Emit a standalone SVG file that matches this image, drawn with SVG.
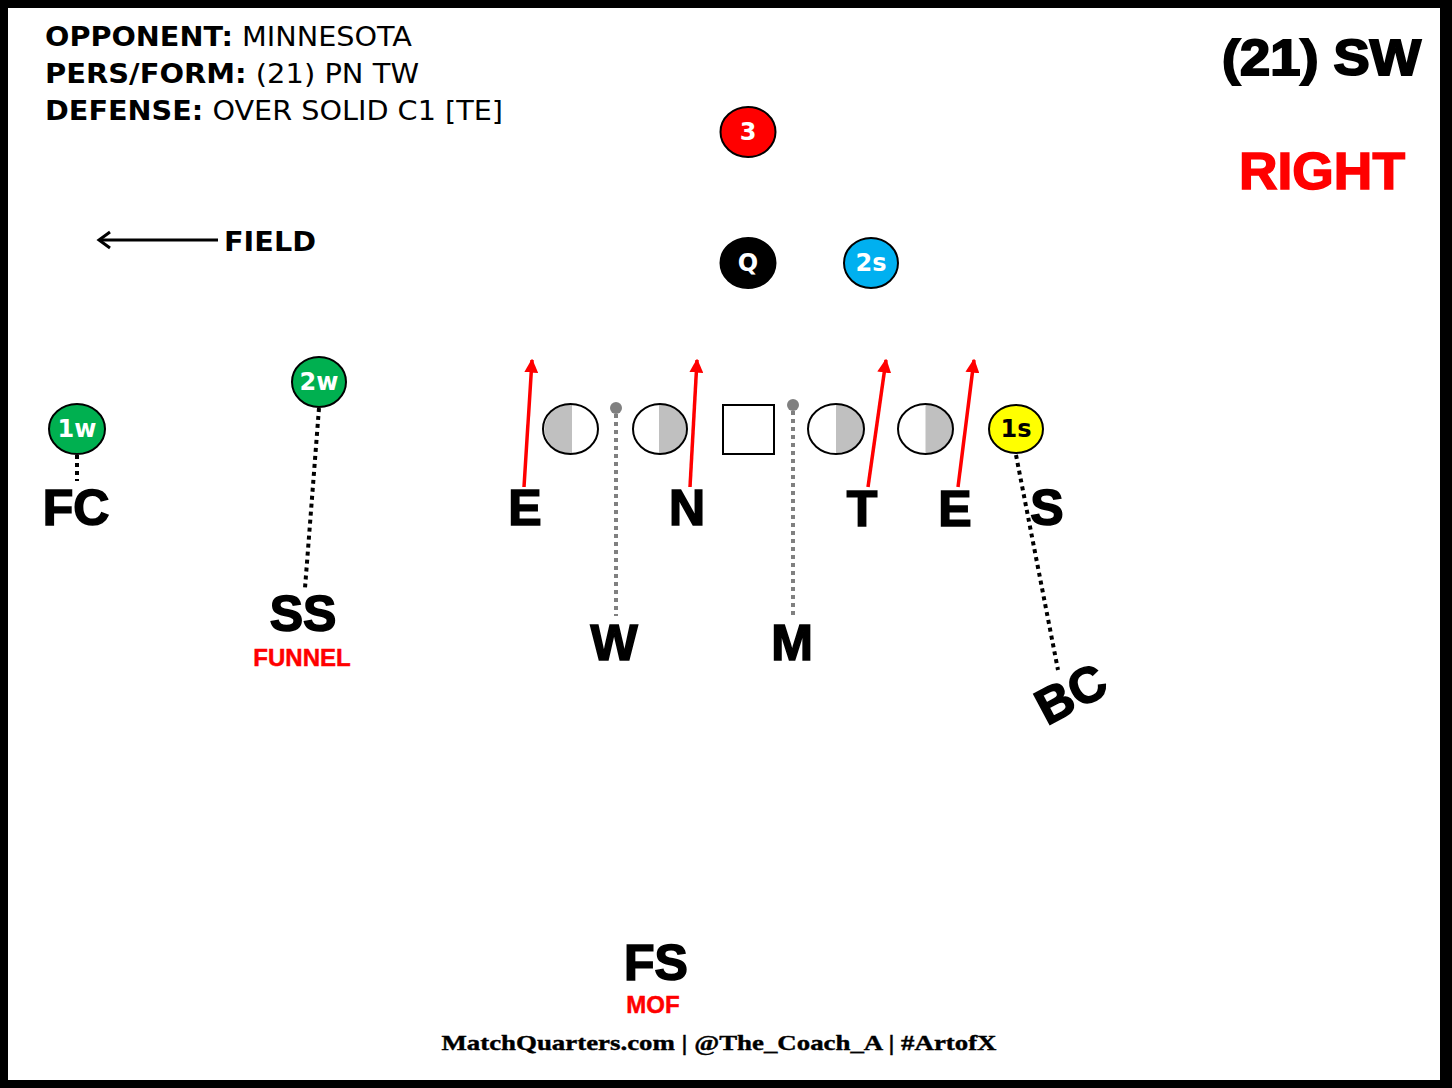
<svg xmlns="http://www.w3.org/2000/svg" width="1452" height="1088" viewBox="0 0 1452 1088">
<style>
.hdr{font-family:"DejaVu Sans",Verdana,sans-serif;font-size:27px;fill:#000}
.b{font-weight:bold}
.lbl{font-family:"Liberation Sans",Arial,sans-serif;font-weight:900;font-size:50px;fill:#000;stroke:#000;stroke-width:1.6;text-anchor:middle}
.red{font-family:"Liberation Sans",Arial,sans-serif;font-weight:bold;font-size:24px;fill:#FF0000;stroke:#FF0000;stroke-width:0.5;text-anchor:middle}
.num{font-family:"DejaVu Sans",Verdana,sans-serif;font-weight:bold;font-size:24px;fill:#fff;text-anchor:middle}
.pl{stroke:#000;stroke-width:2}
.dot{fill:none;stroke:#000;stroke-width:4;stroke-dasharray:4 4}
.gdot{fill:none;stroke:#808080;stroke-width:4;stroke-dasharray:4 4}
.run{stroke:#FF0000;stroke-width:3.5;fill:none;marker-end:url(#ah)}
</style>
<defs>
<marker id="ah" viewBox="0 0 10 10" refX="9" refY="5" markerWidth="4" markerHeight="4" orient="auto" markerUnits="strokeWidth">
<path d="M0,0 L10,5 L0,10 z" fill="#FF0000"/>
</marker>
</defs>
<rect width="1452" height="1088" fill="#000"/>
<rect x="8" y="8" width="1432" height="1072" fill="#fff"/>

<g id="header">
<text class="hdr" x="45" y="46" textLength="367" lengthAdjust="spacingAndGlyphs"><tspan class="b">OPPONENT:</tspan> MINNESOTA</text>
<text class="hdr" x="45" y="83" textLength="374" lengthAdjust="spacingAndGlyphs"><tspan class="b">PERS/FORM:</tspan> (21) PN TW</text>
<text class="hdr" x="45" y="120" textLength="458" lengthAdjust="spacingAndGlyphs"><tspan class="b">DEFENSE:</tspan> OVER SOLID C1 [TE]</text>
<text x="1421" y="75" text-anchor="end" textLength="199" lengthAdjust="spacingAndGlyphs" style="font-family:'Liberation Sans',Arial,sans-serif;font-weight:bold;font-size:50px;stroke:#000;stroke-width:2">(21) SW</text>
<text x="1322" y="189" text-anchor="middle" textLength="166" lengthAdjust="spacingAndGlyphs" style="font-family:'Liberation Sans',Arial,sans-serif;font-weight:bold;font-size:51px;fill:#FF0000;stroke:#FF0000;stroke-width:1.5">RIGHT</text>
</g>

<g id="field">
<line x1="100" y1="240" x2="218" y2="240" stroke="#000" stroke-width="3"/>
<polyline points="110,232 99,240 110,248" fill="none" stroke="#000" stroke-width="3"/>
<text class="hdr b" x="224" y="251" textLength="92" lengthAdjust="spacingAndGlyphs" style="font-weight:bold;font-size:27px">FIELD</text>
</g>

<g id="connectors">
<line class="run" x1="524" y1="487" x2="532" y2="360"/>
<line class="run" x1="690" y1="487" x2="697" y2="360"/>
<line class="run" x1="868" y1="487" x2="886" y2="360"/>
<line class="run" x1="958" y1="487" x2="974" y2="360"/>
<line class="gdot" x1="616" y1="414" x2="616" y2="616"/>
<line class="gdot" x1="793" y1="411" x2="793" y2="616"/>
<line class="dot" x1="77" y1="455" x2="77" y2="481"/>
<line class="dot" x1="319" y1="408" x2="305" y2="588"/>
<line class="dot" x1="1016" y1="455" x2="1058" y2="670"/>
</g>

<g id="p3"><ellipse class="pl" cx="748" cy="132" rx="27.5" ry="25" fill="#FF0000"/><text class="num" x="748" y="140">3</text></g>
<g id="pQ"><ellipse class="pl" cx="748" cy="263" rx="27.5" ry="25" fill="#000"/><text class="num" x="748" y="271">Q</text></g>
<g id="p2s"><ellipse class="pl" cx="871" cy="263" rx="27" ry="25" fill="#00B0F0"/><text class="num" x="871" y="271">2s</text></g>
<g id="p2w"><ellipse class="pl" cx="319" cy="382" rx="27" ry="25" fill="#00B050"/><text class="num" x="319" y="390">2w</text></g>
<g id="p1w"><ellipse class="pl" cx="77" cy="429" rx="28" ry="25" fill="#00B050"/><text class="num" x="77" y="437">1w</text></g>
<g id="p1s"><ellipse class="pl" cx="1016" cy="429" rx="27" ry="24" fill="#FFFF00"/><text class="num" x="1016" y="437" style="fill:#000">1s</text></g>

<g id="ol1"><path d="M572,404 A27.5,25 0 0 0 572,454 Z" fill="#C0C0C0"/><ellipse class="pl" cx="570.5" cy="429" rx="27.5" ry="25" fill="none"/></g>
<g id="ol2"><path d="M659,404 A27,25 0 0 1 659,454 Z" fill="#C0C0C0"/><ellipse class="pl" cx="660" cy="429" rx="27" ry="25" fill="none"/></g>
<g id="center"><rect class="pl" x="723" y="405" width="51" height="49" fill="#fff"/></g>
<g id="ol3"><path d="M836,404 A28,25 0 0 1 836,454 Z" fill="#C0C0C0"/><ellipse class="pl" cx="836" cy="429" rx="28" ry="25" fill="none"/></g>
<g id="ol4"><path d="M925.5,404 A27.5,25 0 0 1 925.5,454 Z" fill="#C0C0C0"/><ellipse class="pl" cx="925.5" cy="429" rx="27.5" ry="25" fill="none"/></g>
<g id="wdot"><circle cx="616" cy="408" r="6" fill="#808080"/></g>
<g id="mdot"><circle cx="793" cy="405" r="6" fill="#808080"/></g>

<g id="dFC"><text class="lbl" x="76" y="525">FC</text></g>
<g id="dSS"><text class="lbl" x="303" y="631">SS</text><text class="red" x="302" y="666">FUNNEL</text></g>
<g id="dE1"><text class="lbl" x="525" y="525">E</text></g>
<g id="dN"><text class="lbl" x="687" y="525">N</text></g>
<g id="dT"><text class="lbl" x="862" y="526">T</text></g>
<g id="dE2"><text class="lbl" x="955" y="526">E</text></g>
<g id="dS"><text class="lbl" x="1047" y="525">S</text></g>
<g id="dW"><text class="lbl" x="614" y="660">W</text></g>
<g id="dM"><text class="lbl" x="792" y="660">M</text></g>
<g id="dBC"><text class="lbl" x="0" y="0" transform="translate(1079,709) rotate(-28)">BC</text></g>
<g id="dFS"><text class="lbl" x="656" y="980">FS</text><text class="red" x="653" y="1013">MOF</text></g>

<g id="footer"><text x="719" y="1050" text-anchor="middle" style="font-family:'Liberation Serif','Times New Roman',serif;font-weight:bold;font-size:22px;stroke:#000;stroke-width:0.4" textLength="555" lengthAdjust="spacingAndGlyphs">MatchQuarters.com | @The_Coach_A | #ArtofX</text></g>
</svg>
